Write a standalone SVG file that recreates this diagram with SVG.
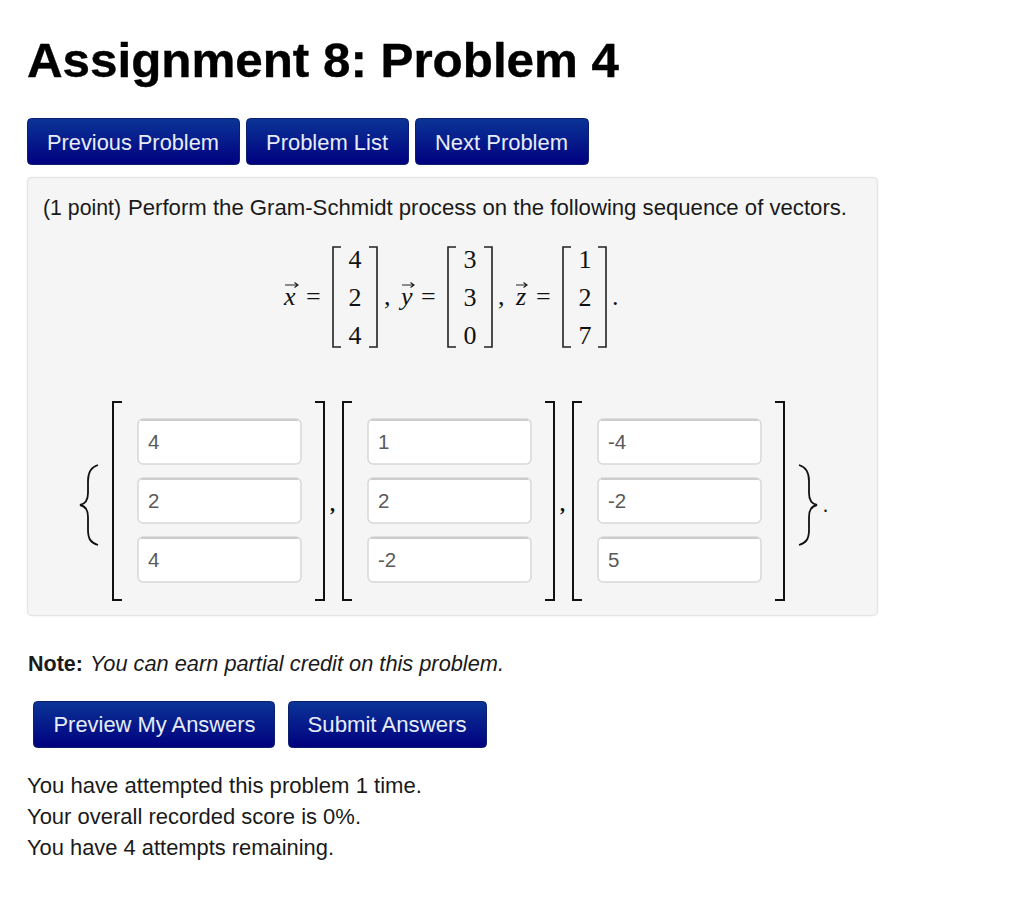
<svg xmlns="http://www.w3.org/2000/svg" width="1024" height="897" viewBox="0 0 1024 897">
<style>
text{font-family:"Liberation Sans",Arial,sans-serif;fill:#1a1a1a}
.t{font-size:22px}
.b rect{fill:url(#bg);stroke:#0a1f6e;stroke-width:1}
.b text{font-size:22px;fill:#e8ecf8;text-anchor:middle}
.f rect{fill:#fff;stroke:#d8d8d8;stroke-width:1.500}
.f path{fill:none;stroke:#cdcdcd;stroke-width:2}
.f text{font-size:20.500px;fill:#5a5a5a}
.m text{font-family:"Liberation Serif","Times New Roman",serif;font-size:26px;fill:#111}
.m .c{text-anchor:middle}
.i{font-style:italic}
.br{fill:none;stroke:#111;stroke-width:2}
.br2{fill:none;stroke:#222;stroke-width:1.600}
.ar{fill:none;stroke:#222;stroke-width:1.200}
.cb{fill:none;stroke:#111;stroke-width:1.800}
</style>
<defs>
<linearGradient id="bg" x1="0" y1="0" x2="0" y2="1"><stop offset="0" stop-color="#0b3596"/><stop offset="1" stop-color="#00007f"/></linearGradient>
</defs>
<rect width="1024" height="897" fill="#fff"/>
<text x="27" y="77" font-size="48" font-weight="700" style="fill:#000;stroke:#000;stroke-width:.4" textLength="592" lengthAdjust="spacingAndGlyphs">Assignment 8: Problem 4</text>

<g id="btn-prev" class="b"><rect x="27.500" y="118.500" width="212" height="46" rx="4"/><text x="133" y="149.500" textLength="172" lengthAdjust="spacingAndGlyphs">Previous Problem</text></g>
<g id="btn-list" class="b"><rect x="246.500" y="118.500" width="162" height="46" rx="4"/><text x="327" y="149.500" textLength="122" lengthAdjust="spacingAndGlyphs">Problem List</text></g>
<g id="btn-next" class="b"><rect x="415.500" y="118.500" width="173" height="46" rx="4"/><text x="501.500" y="149.500" textLength="133" lengthAdjust="spacingAndGlyphs">Next Problem</text></g>

<g id="problem-box">
<rect x="27.500" y="177.500" width="850" height="438" rx="4" fill="#f5f5f5" stroke="#e6e6e6" stroke-width="1.500"/>
<text class="t" x="43" y="215" textLength="78" lengthAdjust="spacingAndGlyphs">(1 point)</text>
<text class="t" x="128" y="215" textLength="719" lengthAdjust="spacingAndGlyphs">Perform the Gram-Schmidt process on the following sequence of vectors.</text>
</g>

<g id="given-vectors" class="m">
<text class="i" x="284" y="305">x</text><path class="ar" d="M285 285H298M294.500 282.500L298 285L294.500 287.500"/>
<text x="306" y="305">=</text>
<path class="br2" d="M341 247H333V347H341M369 247H377V347H369"/>
<text class="c" x="355" y="268">4</text><text class="c" x="355" y="306">2</text><text class="c" x="355" y="344">4</text>
<text x="384" y="305">,</text>
<text class="i" x="401" y="305">y</text><path class="ar" d="M402 285H414M410.500 282.500L414 285L410.500 287.500"/>
<text x="421" y="305">=</text>
<path class="br2" d="M456 247H448V347H456M484 247H492V347H484"/>
<text class="c" x="470" y="268">3</text><text class="c" x="470" y="306">3</text><text class="c" x="470" y="344">0</text>
<text x="498" y="305">,</text>
<text class="i" x="516" y="305">z</text><path class="ar" d="M516 285H527M523.500 282.500L527 285L523.500 287.500"/>
<text x="536" y="305">=</text>
<path class="br2" d="M571 247H563V347H571M598 247H606V347H598"/>
<text class="c" x="585" y="268">1</text><text class="c" x="585" y="306">2</text><text class="c" x="585" y="344">7</text>
<text x="612" y="305">.</text>
</g>

<g id="answer-brackets">
<path class="br" d="M122 402H113V600H122M315 402H324V600H315M352 402H343V600H352M545 402H554V600H545M582 402H573V600H582M775 402H784V600H775"/>
<path class="cb" d="M98 465C91 467 88 472 88 481V493C88 500 85 504 80 505C85 506 88 510 88 517V530C88 539 91 543 98 545"/>
<path class="cb" d="M799 465C806 467 809 472 809 481V493C809 500 812 504 817 505C812 506 809 510 809 517V530C809 539 806 543 799 545"/>
<g class="m"><text x="330" y="511" style="font-size:20px;font-weight:700">,</text><text x="560" y="511" style="font-size:20px;font-weight:700">,</text><text x="823" y="512" style="font-size:20px">.</text></g>
</g>

<g id="field-1-1" class="f"><rect x="138" y="419" width="163" height="45" rx="5"/><path d="M141 420H298"/><text x="148" y="449">4</text></g>
<g id="field-1-2" class="f"><rect x="138" y="478" width="163" height="45" rx="5"/><path d="M141 479H298"/><text x="148" y="508">2</text></g>
<g id="field-1-3" class="f"><rect x="138" y="537" width="163" height="45" rx="5"/><path d="M141 538H298"/><text x="148" y="567">4</text></g>
<g id="field-2-1" class="f"><rect x="368" y="419" width="163" height="45" rx="5"/><path d="M371 420H528"/><text x="378" y="449">1</text></g>
<g id="field-2-2" class="f"><rect x="368" y="478" width="163" height="45" rx="5"/><path d="M371 479H528"/><text x="378" y="508">2</text></g>
<g id="field-2-3" class="f"><rect x="368" y="537" width="163" height="45" rx="5"/><path d="M371 538H528"/><text x="378" y="567">-2</text></g>
<g id="field-3-1" class="f"><rect x="598" y="419" width="163" height="45" rx="5"/><path d="M601 420H758"/><text x="608" y="449">-4</text></g>
<g id="field-3-2" class="f"><rect x="598" y="478" width="163" height="45" rx="5"/><path d="M601 479H758"/><text x="608" y="508">-2</text></g>
<g id="field-3-3" class="f"><rect x="598" y="537" width="163" height="45" rx="5"/><path d="M601 538H758"/><text x="608" y="567">5</text></g>

<g id="note"><text class="t" x="28" y="671" font-weight="700" textLength="55" lengthAdjust="spacingAndGlyphs">Note:</text><text class="t i" x="90" y="671" textLength="414" lengthAdjust="spacingAndGlyphs">You can earn partial credit on this problem.</text></g>

<g id="btn-preview" class="b"><rect x="33.500" y="701.500" width="241" height="46" rx="4"/><text x="154.500" y="732" textLength="202" lengthAdjust="spacingAndGlyphs">Preview My Answers</text></g>
<g id="btn-submit" class="b"><rect x="288.500" y="701.500" width="198" height="46" rx="4"/><text x="387" y="732" textLength="159" lengthAdjust="spacingAndGlyphs">Submit Answers</text></g>

<g id="status">
<text class="t" x="27" y="793" textLength="395" lengthAdjust="spacingAndGlyphs">You have attempted this problem 1 time.</text>
<text class="t" x="27" y="824" textLength="334" lengthAdjust="spacingAndGlyphs">Your overall recorded score is 0%.</text>
<text class="t" x="27" y="855" textLength="307" lengthAdjust="spacingAndGlyphs">You have 4 attempts remaining.</text>
</g>
</svg>
